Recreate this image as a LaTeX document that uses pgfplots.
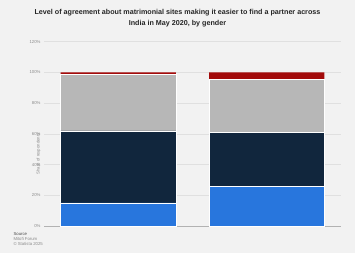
\documentclass[border=0pt]{standalone}
\usepackage{pgfplots}
\pgfplotsset{compat=1.18}
\usepackage{fontspec}
\setmainfont{Liberation Sans}
\definecolor{bg}{HTML}{F2F2F2}
\definecolor{cblue}{HTML}{2876DD}
\definecolor{cnavy}{HTML}{11263D}
\definecolor{cgray}{HTML}{B7B7B7}
\definecolor{cred}{HTML}{A30A0A}
\definecolor{tgray}{HTML}{8A8A8A}
\begin{document}
\begin{tikzpicture}
\fill[bg] (0,0) rectangle (355bp,253bp);
\useasboundingbox (0,0) rectangle (355bp,253bp);
\node[font=\bfseries\fontsize{7.2}{11.5}\selectfont, align=center, text=black!85] at (177.5bp,235bp) {Level of agreement about matrimonial sites making it easier to find a partner across\\India in May 2020, by gender};
\begin{axis}[
  at={(44bp,27bp)}, anchor=south west,
  scale only axis, width=297bp, height=184.3bp,
  ybar stacked, bar width=0.776,
  xmin=-0.5, xmax=1.5, ymin=0, ymax=120,
  xtick=\empty,
  ytick={0,20,40,60,80,100,120},
  yticklabel={\pgfmathprintnumber{\tick}\%},
  /pgf/number format/assume math mode=true,
  yticklabel style={font=\fontsize{4.3}{5}\selectfont, text=tgray},
  ylabel={Share of respondents},
  ylabel style={font=\fontsize{4.3}{5}\selectfont, text=tgray, at={(axis description cs:0,0.5)}, xshift=-20bp, anchor=south},
  axis line style={draw=none},
  axis x line*=bottom,
  x axis line style={draw=black!30, line width=0.6pt},
  major tick length=0pt,
  ymajorgrids, grid style={draw=black!12, line width=0.4pt},
  every axis plot/.append style={draw=white, line width=0.3pt},
  clip=false,
]
\addplot[fill=cblue] coordinates {(0,15) (1,26)};
\addplot[fill=cnavy] coordinates {(0,47) (1,35)};
\addplot[fill=cgray] coordinates {(0,36.8) (1,34.5)};
\addplot[fill=cred, draw=none] coordinates {(0,1.2) (1,4.5)};
\end{axis}
\node[anchor=north west, font=\fontsize{4.3}{5.4}\selectfont, align=left, text=black!70] at (10bp,24bp) {Source\\[-0.5pt]{\color{tgray}Mitofi Forum}\\[-0.5pt]{\color{tgray}\textcopyright{} Statista 2025}};
\end{tikzpicture}
\end{document}
